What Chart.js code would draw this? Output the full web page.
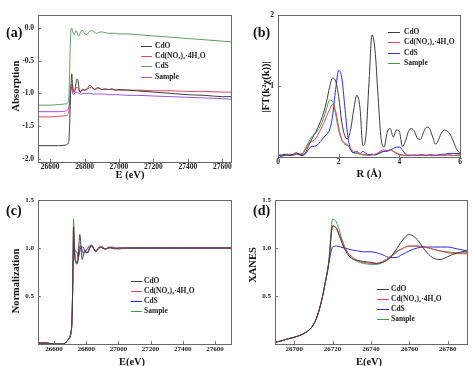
<!DOCTYPE html>
<html><head><meta charset="utf-8">
<script src="https://cdn.jsdelivr.net/npm/chart.js@4"></script>
<style>
html,body{margin:0;padding:0;background:#fff;}
#wrap{position:relative;width:474px;height:366px;overflow:hidden;background:#fff;}
canvas{position:absolute;}
</style></head>
<body><div id="wrap">
<canvas id="ca" width="237" height="183" style="left:0;top:0"></canvas>
<canvas id="cb" width="237" height="183" style="left:237px;top:0"></canvas>
<canvas id="cc" width="237" height="183" style="left:0;top:183px"></canvas>
<canvas id="cd" width="237" height="183" style="left:237px;top:183px"></canvas>
</div>
<script>
// ---------- DATA ----------
const LABELS = ['CdO', 'Cd(NO\u2083)\u2082\u00b74H\u2082O', 'CdS', 'Sample'];

// (a) absorption
const A_E = [26530,26600,26650,26690,26700,26706,26710,26714,26718,26722,26726,26730,26735,26740,26745,26750,26756,26762,26768,26775,26782,26790,26800,26810,26820,26830,26840,26850,26860,26870,26880,26890,26900,26920,26940,26960,26980,27000,27050,27100,27200,27300,27400,27500,27600,27650];
const A_CdO = [-1.80,-1.80,-1.80,-1.79,-1.78,-1.76,-1.70,-1.45,-1.10,-0.85,-0.70,-0.85,-0.96,-0.97,-0.93,-0.85,-0.78,-0.80,-0.92,-0.98,-0.96,-0.93,-0.95,-0.94,-0.91,-0.88,-0.89,-0.92,-0.94,-0.92,-0.91,-0.93,-0.94,-0.93,-0.94,-0.93,-0.95,-0.94,-0.95,-0.96,-0.98,-1.00,-1.02,-1.03,-1.05,-1.05];
const A_Nit = [-1.36,-1.36,-1.35,-1.34,-1.33,-1.31,-1.27,-1.12,-0.95,-0.87,-0.86,-0.92,-0.98,-0.99,-0.96,-0.92,-0.90,-0.92,-0.96,-0.98,-0.97,-0.95,-0.95,-0.94,-0.93,-0.91,-0.91,-0.93,-0.94,-0.93,-0.92,-0.93,-0.94,-0.94,-0.94,-0.94,-0.95,-0.95,-0.95,-0.95,-0.96,-0.96,-0.97,-0.97,-0.98,-0.98];
const A_CdS = [-1.18,-1.18,-1.17,-1.16,-1.15,-1.12,-1.00,-0.60,-0.20,-0.02,0.00,-0.04,-0.08,-0.10,-0.07,-0.04,-0.06,-0.11,-0.12,-0.08,-0.04,-0.04,-0.08,-0.10,-0.08,-0.05,-0.04,-0.05,-0.07,-0.08,-0.07,-0.06,-0.06,-0.07,-0.08,-0.08,-0.08,-0.09,-0.09,-0.10,-0.12,-0.14,-0.16,-0.18,-0.20,-0.21];
const A_Sam = [-1.28,-1.28,-1.28,-1.27,-1.26,-1.24,-1.20,-1.08,-0.95,-0.90,-0.92,-0.98,-1.02,-1.01,-0.99,-0.98,-0.98,-0.99,-1.00,-1.01,-1.01,-1.00,-1.00,-1.00,-1.00,-1.00,-1.00,-1.01,-1.01,-1.01,-1.01,-1.01,-1.01,-1.01,-1.02,-1.02,-1.02,-1.02,-1.03,-1.03,-1.04,-1.05,-1.06,-1.07,-1.08,-1.09];
const A_XTICKS = [26600,26800,27000,27200,27400,27600];
const A_YTICKS = [-2.0,-1.5,-1.0,-0.5,0.0];

// (b) Fourier transform
const B_R = [0.0,0.1,0.2,0.3,0.4,0.5,0.6,0.7,0.8,0.9,1.0,1.1,1.2,1.3,1.4,1.5,1.6,1.7,1.8,1.9,2.0,2.1,2.2,2.3,2.4,2.5,2.6,2.7,2.8,2.9,3.0,3.1,3.2,3.3,3.4,3.5,3.6,3.7,3.8,3.9,4.0,4.1,4.2,4.3,4.4,4.5,4.6,4.7,4.8,4.9,5.0,5.1,5.2,5.3,5.4,5.5,5.6,5.7,5.8,5.9,6.0];
const B_CdO = [0.03,0.02,0.04,0.03,0.02,0.04,0.06,0.04,0.03,0.06,0.15,0.24,0.32,0.40,0.50,0.62,0.78,0.98,1.11,1.07,0.85,0.50,0.30,0.26,0.40,0.68,0.87,0.70,0.16,0.30,1.05,1.72,1.50,0.85,0.25,0.14,0.35,0.40,0.28,0.38,0.36,0.15,0.22,0.36,0.40,0.36,0.26,0.25,0.35,0.42,0.40,0.28,0.18,0.25,0.35,0.38,0.36,0.30,0.20,0.10,0.06];
const B_Nit = [0.03,0.02,0.03,0.04,0.03,0.03,0.05,0.04,0.04,0.10,0.18,0.22,0.24,0.30,0.38,0.47,0.57,0.67,0.74,0.65,0.42,0.25,0.20,0.17,0.12,0.08,0.06,0.05,0.03,0.03,0.02,0.03,0.04,0.06,0.09,0.10,0.09,0.10,0.08,0.05,0.03,0.02,0.02,0.03,0.02,0.02,0.03,0.02,0.02,0.03,0.02,0.02,0.03,0.02,0.02,0.03,0.03,0.02,0.02,0.03,0.03];
const B_CdS = [0.02,0.01,0.02,0.03,0.02,0.03,0.04,0.03,0.02,0.04,0.10,0.15,0.15,0.17,0.22,0.27,0.32,0.38,0.58,0.95,1.22,1.12,0.72,0.30,0.10,0.06,0.08,0.05,0.08,0.05,0.03,0.04,0.03,0.05,0.07,0.08,0.08,0.10,0.12,0.14,0.14,0.10,0.04,0.02,0.02,0.03,0.02,0.03,0.03,0.02,0.03,0.03,0.02,0.03,0.04,0.04,0.05,0.05,0.05,0.05,0.05];
const B_Sam = [0.02,0.03,0.02,0.03,0.04,0.02,0.05,0.04,0.05,0.12,0.20,0.28,0.32,0.37,0.44,0.54,0.68,0.80,0.78,0.60,0.38,0.24,0.18,0.16,0.10,0.06,0.05,0.04,0.03,0.03,0.03,0.03,0.03,0.04,0.06,0.08,0.09,0.10,0.08,0.06,0.04,0.03,0.02,0.02,0.03,0.02,0.02,0.03,0.02,0.02,0.03,0.02,0.02,0.03,0.02,0.02,0.03,0.03,0.02,0.02,0.02];
const B_XTICKS = [0,2,4,6];
const B_YTICKS = [1,2];

// (c) normalized
const C_E = [26500,26550,26600,26650,26670,26680,26690,26700,26706,26710,26714,26718,26721,26724,26727,26730,26735,26740,26745,26750,26755,26760,26765,26770,26775,26780,26790,26800,26810,26820,26830,26840,26850,26860,26870,26880,26890,26900,26920,26940,26960,26980,27000,27050,27100,27200,27300,27400,27500,27600,27700];
const C_CdO = [0.01,0.01,0.00,0.00,0.01,0.03,0.05,0.08,0.13,0.20,0.43,0.84,1.22,1.10,0.96,0.89,0.86,0.85,0.84,0.90,1.05,1.14,1.07,0.95,0.88,0.91,0.97,0.96,0.95,0.99,1.03,1.02,0.98,0.96,0.98,1.01,1.01,1.00,0.99,1.01,1.00,0.99,1.00,1.00,1.00,1.00,1.00,1.00,1.00,1.00,1.00];
const C_Nit = [0.01,0.01,0.00,0.00,0.01,0.03,0.05,0.08,0.13,0.20,0.43,0.85,1.23,1.12,0.98,0.91,0.86,0.84,0.85,0.91,0.98,1.02,1.02,1.00,0.97,0.95,0.95,0.97,1.00,1.02,1.03,1.01,0.98,0.97,0.98,1.00,1.01,1.01,0.99,1.00,1.01,1.00,0.99,1.00,1.00,1.00,1.00,1.00,1.00,1.00,1.00];
const C_CdS = [0.01,0.01,0.00,0.00,0.01,0.03,0.05,0.08,0.13,0.20,0.43,0.84,1.02,1.01,0.99,0.98,0.96,0.96,0.94,0.90,0.92,0.97,1.00,1.01,1.01,1.01,0.97,0.95,0.96,1.00,1.02,1.01,0.98,0.97,0.99,1.00,1.01,1.00,0.99,1.00,1.00,1.00,1.00,1.00,1.00,1.00,1.00,1.00,1.00,1.00,1.00];
const C_Sam = [0.01,0.01,0.00,0.00,0.01,0.03,0.05,0.08,0.13,0.20,0.43,0.86,1.30,1.15,0.98,0.90,0.85,0.83,0.85,0.90,0.98,1.02,1.02,1.00,0.97,0.95,0.96,0.98,1.00,1.02,1.03,1.01,0.98,0.97,0.98,1.00,1.01,1.01,0.99,1.00,1.01,1.00,0.99,1.00,1.00,1.00,1.00,1.00,1.00,1.00,1.00];
const C_XTICKS = [26600,26800,27000,27200,27400,27600];
const C_YTICKS = [0.5,1.0,1.5];

// (d) XANES
const D_E = [26690,26693,26696,26700,26703,26706,26708,26710,26712,26714,26716,26718,26720,26722,26724,26726,26728,26730,26733,26736,26740,26743,26746,26750,26753,26756,26760,26764,26768,26772,26776,26780,26785,26790];
const D_CdO = [0.02,0.03,0.05,0.07,0.09,0.12,0.15,0.20,0.29,0.43,0.62,0.84,1.23,1.20,1.10,1.00,0.93,0.89,0.87,0.86,0.85,0.84,0.85,0.90,0.98,1.07,1.14,1.09,0.98,0.90,0.88,0.91,0.95,0.97];
const D_Nit = [0.02,0.03,0.05,0.07,0.09,0.12,0.15,0.20,0.29,0.43,0.62,0.85,1.23,1.21,1.12,1.02,0.95,0.91,0.87,0.85,0.84,0.84,0.86,0.91,0.96,0.99,1.02,1.02,1.01,0.99,0.97,0.95,0.94,0.94];
const D_CdS = [0.02,0.03,0.05,0.07,0.09,0.12,0.15,0.20,0.29,0.43,0.62,0.84,1.01,1.02,1.01,1.00,0.99,0.98,0.97,0.96,0.96,0.95,0.93,0.90,0.90,0.93,0.97,1.00,1.01,1.01,1.01,1.01,0.99,0.97];
const D_Sam = [0.02,0.03,0.05,0.07,0.09,0.12,0.15,0.20,0.29,0.43,0.62,0.86,1.30,1.27,1.15,1.03,0.95,0.90,0.86,0.84,0.83,0.83,0.85,0.90,0.95,0.99,1.02,1.02,1.01,0.99,0.97,0.96,0.95,0.95];
const D_XTICKS = [26700,26720,26740,26760,26780];
const D_YTICKS = [0.5,1.0,1.5];

// ---------- STYLE ----------
const SERIF = "'Liberation Serif','Times New Roman',serif";
const COL_BLACK = '#3c3c3c', COL_RED = '#e8445a', COL_BLUE = '#2a2ae6', COL_GREEN = '#3f9a45', COL_PURPLE = '#9d52ea', COL_GREEN_A = '#5c9e5f';

const deco = {
  id: 'deco',
  afterDraw(chart, args, o) {
    const ctx = chart.ctx, ca = chart.chartArea;
    ctx.save();
    ctx.strokeStyle = '#777'; ctx.lineWidth = 1;
    const xs = chart.scales.x, ys = chart.scales.y;
    xs.ticks.forEach(t => { const p = Math.round(xs.getPixelForValue(t.value)) + 0.5;
      ctx.beginPath(); ctx.moveTo(p, ca.bottom); ctx.lineTo(p, ca.bottom - 3); ctx.stroke(); });
    ys.ticks.forEach(t => { const p = Math.round(ys.getPixelForValue(t.value)) + 0.5;
      ctx.beginPath(); ctx.moveTo(ca.left, p); ctx.lineTo(ca.left + 3, p); ctx.stroke(); });
    ctx.strokeStyle = '#6a6a6a';
    ctx.strokeRect(Math.round(ca.left) + 0.5, Math.round(ca.top) + 0.5, Math.round(ca.right - ca.left), Math.round(ca.bottom - ca.top));
    ctx.fillStyle = '#111';
    ctx.font = 'bold 14px ' + SERIF; ctx.textAlign = 'left'; ctx.textBaseline = 'middle';
    ctx.fillText(o.panel, o.panelX, o.panelY);
    ctx.font = 'bold 10.5px ' + SERIF; ctx.textAlign = 'center';
    ctx.fillText(o.xTitle, o.xTitleX, o.xTitleY);
    ctx.save(); ctx.translate(o.yTitleX, o.yTitleY); ctx.rotate(-Math.PI / 2);
    ctx.fillText(o.yTitle, 0, 0); ctx.restore();
    ctx.font = 'bold 7.5px ' + SERIF; ctx.textAlign = 'left';
    chart.data.datasets.forEach((d, i) => {
      const y = o.legY[i];
      ctx.strokeStyle = d.borderColor; ctx.lineWidth = 1;
      ctx.beginPath(); ctx.moveTo(o.legX0, y + 0.5); ctx.lineTo(o.legX1, y + 0.5); ctx.stroke();
      ctx.fillStyle = '#222';
      ctx.fillText(d.label, o.legTX, y);
    });
    ctx.restore();
  }
};

function build(id, xsArr, series, colors, sc, area, d) {
  const W = 237, H = 183;
  const datasets = series.map((ys, i) => ({
    label: LABELS[i],
    data: xsArr.map((x, k) => ({ x: x, y: ys[k] })),
    borderColor: colors[i], borderWidth: 1, pointRadius: 0,
    cubicInterpolationMode: 'monotone', fill: false
  }));
  const tickFont = { family: SERIF, size: sc.fs, weight: 'bold' };
  return new Chart(document.getElementById(id), {
    type: 'line',
    data: { datasets },
    options: {
      responsive: false, animation: false, devicePixelRatio: 1,
      layout: { padding: { left: 0, top: area.top, right: W - area.right, bottom: 0 } },
      plugins: { legend: { display: false }, tooltip: { enabled: false }, deco: d },
      scales: {
        x: {
          type: 'linear', min: sc.xmin, max: sc.xmax,
          grid: { display: false, drawTicks: false }, border: { display: false },
          ticks: { font: tickFont, color: '#222', padding: 1, maxRotation: 0, autoSkip: false, callback: v => String(v) },
          afterBuildTicks: s => { s.ticks = sc.xt.map(v => ({ value: v })); },
          afterFit: s => { s.height = H - area.bottom; }
        },
        y: {
          type: 'linear', min: sc.ymin, max: sc.ymax,
          grid: { display: false, drawTicks: false }, border: { display: false },
          ticks: { font: tickFont, color: '#222', padding: 4, autoSkip: false, callback: sc.yfmt },
          afterBuildTicks: s => { s.ticks = sc.yt.map(v => ({ value: v })); },
          afterFit: s => { s.width = area.left; }
        }
      }
    },
    plugins: [deco]
  });
}

build('ca', A_E, [A_CdO, A_Nit, A_CdS, A_Sam], [COL_BLACK, COL_RED, COL_GREEN_A, COL_PURPLE],
  { xmin: 26530, xmax: 27650, ymin: -2.05, ymax: 0.2, xt: A_XTICKS, yt: A_YTICKS, fs: 7.5, yfmt: v => v.toFixed(1) },
  { left: 38, right: 231, top: 15, bottom: 162 },
  { panel: '(a)', panelX: 6, panelY: 33, xTitle: 'E (eV)', xTitleX: 130, xTitleY: 175, yTitle: 'Absorption', yTitleX: 16, yTitleY: 86,
    legX0: 141, legX1: 152, legTX: 155, legY: [46, 56, 66, 77] });

build('cb', B_R, [B_CdO, B_Nit, B_CdS, B_Sam], [COL_BLACK, COL_RED, COL_BLUE, COL_GREEN],
  { xmin: 0, xmax: 6, ymin: 0, ymax: 2, xt: B_XTICKS, yt: B_YTICKS, fs: 7.5, yfmt: v => String(v) },
  { left: 41, right: 223, top: 15, bottom: 157 },
  { panel: '(b)', panelX: 16, panelY: 33, xTitle: 'R (\u00c5)', xTitleX: 132, xTitleY: 174, yTitle: '|FT(k\u00b2\u03c7(k))|', yTitleX: 29, yTitleY: 87,
    legX0: 151, legX1: 163, legTX: 167, legY: [32, 42, 53, 63] });

build('cc', C_E, [C_CdO, C_Nit, C_CdS, C_Sam], [COL_BLACK, COL_RED, COL_BLUE, COL_GREEN],
  { xmin: 26500, xmax: 27700, ymin: 0, ymax: 1.5, xt: C_XTICKS, yt: C_YTICKS, fs: 7, yfmt: v => v.toFixed(1) },
  { left: 38, right: 231, top: 17, bottom: 161 },
  { panel: '(c)', panelX: 6, panelY: 28, xTitle: 'E(eV)', xTitleX: 132, xTitleY: 179, yTitle: 'Normalization', yTitleX: 16, yTitleY: 98,
    legX0: 131, legX1: 142, legTX: 144, legY: [98, 108, 118, 128] });

build('cd', D_E, [D_CdO, D_Nit, D_CdS, D_Sam], [COL_BLACK, COL_RED, COL_BLUE, COL_GREEN],
  { xmin: 26690, xmax: 26790, ymin: 0, ymax: 1.5, xt: D_XTICKS, yt: D_YTICKS, fs: 7, yfmt: v => v.toFixed(1) },
  { left: 38, right: 230, top: 17, bottom: 161 },
  { panel: '(d)', panelX: 16, panelY: 28, xTitle: 'E(eV)', xTitleX: 132, xTitleY: 179, yTitle: 'XANES', yTitleX: 16, yTitleY: 82,
    legX0: 140, legX1: 152, legTX: 154, legY: [106, 116, 126, 136] });
</script>
</body></html>
